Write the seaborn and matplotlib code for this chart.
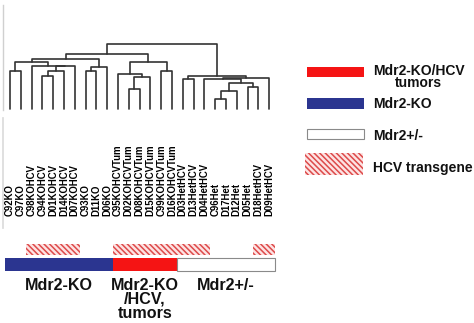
import numpy as np
import pandas as pd
import matplotlib
matplotlib.use("Agg")
import matplotlib.pyplot as plt
import seaborn as sns
from matplotlib.patches import Rectangle

# ---------------- data ----------------
samples = ["C92KO", "C97KO", "C98KOHCV", "C94KOHCV", "D01KOHCV", "D14KOHCV", "D07KOHCV",
           "C93KO", "D11KO", "D06KO",
           "C95KOHCVTum", "D02KOHCVTum", "D08KOHCVTum", "D15KOHCVTum", "C99KOHCVTum", "D16KOHCVTum",
           "D03HetHCV", "D13HetHCV", "D04HetHCV", "C96Het", "D17Het", "D12Het", "D05Het",
           "D18HetHCV", "D09HetHCV"]
genotype = ["KO"] * 10 + ["KO_HCV_tumor"] * 6 + ["Het"] * 9
hcv = [0, 0, 1, 1, 1, 1, 1, 0, 0, 0,
       1, 1, 1, 1, 1, 1,
       1, 1, 1, 0, 0, 0, 0, 1, 1]

# hierarchical merges: node ids < 25 are samples, 25+k is the k-th merge
merge_a = [11, 19, 26, 22, 27, 18, 30, 16, 32, 25, 10, 14, 35, 3, 38, 39, 2, 0, 42, 7, 44, 43, 46, 47]
merge_b = [12, 20, 21, 23, 28, 29, 24, 17, 31, 13, 34, 15, 36, 4, 5, 6, 40, 1, 41, 8, 9, 45, 37, 33]
merge_h = [19.7, 10.0, 18.3, 22.0, 26.0, 29.7, 30.7, 30.0, 33.0, 32.3, 35.0, 38.3, 46.7,
           33.0, 38.3, 42.5, 43.3, 38.3, 47.3, 38.3, 42.3, 50.0, 55.0, 65.0]

group_keys = ["KO", "KO_HCV_tumor", "Het"]
group_text = ["Mdr2-KO", "Mdr2-KO\n/HCV,\ntumors", "Mdr2+/-"]
legend_keys = ["KO_HCV_tumor", "KO", "Het"]
legend_text = ["Mdr2-KO/HCV\ntumors", "Mdr2-KO", "Mdr2+/-"]
hcv_text = "HCV transgene"

# ---------------- style ----------------
sns.set_theme(style="white")
plt.rcParams["font.family"] = ["Liberation Sans", "DejaVu Sans"]

group_color = {"KO": "#2b3590", "KO_HCV_tumor": "#f51414", "Het": "#ffffff"}
group_edge = {"KO": "#2b3590", "KO_HCV_tumor": "#f51414", "Het": "#8a8a8a"}
hatch_face = "#fde3e3"
hatch_edge = "#dd4a4a"
plt.rcParams["hatch.linewidth"] = 1.1

W, H = 474, 323
fig = plt.figure(figsize=(W / 100, H / 100), dpi=100)
fig.patch.set_facecolor("white")


def px_axes(x0, y0, x1, y1):
    return fig.add_axes([x0 / W, 1 - y1 / H, (x1 - x0) / W, (y1 - y0) / H])


LEAF0, STEP = 10.0, 10.8
def xlim_for(x0, x1):
    return ((x0 - LEAF0) / STEP, (x1 - LEAF0) / STEP)

# ---------------- dendrogram ----------------
n = len(samples)
pos = {i: float(i) for i in range(n)}
hgt = {i: 0.0 for i in range(n)}
rows = []
for k, (a, b, h) in enumerate(zip(merge_a, merge_b, merge_h)):
    xa, xb = pos[a], pos[b]
    rows += [(k, xa, hgt[a]), (k, xa, h), (k, xb, h), (k, xb, hgt[b])]
    pos[n + k] = (xa + xb) / 2
    hgt[n + k] = h
dend = pd.DataFrame(rows, columns=["link", "x", "y"])

ax_d = px_axes(3, 5, 290, 110)
sns.lineplot(data=dend, x="x", y="y", units="link", estimator=None, sort=False,
             color="#333333", lw=1.2, ax=ax_d, legend=False)
ax_d.set_xlim(*xlim_for(3, 290))
ax_d.set_ylim(-1, 104)
ax_d.set_xticks([]); ax_d.set_yticks([])
ax_d.set_xlabel(""); ax_d.set_ylabel("")
for s in ["top", "right", "bottom"]:
    ax_d.spines[s].set_visible(False)
ax_d.spines["left"].set_color("#d0d0d0")
ax_d.spines["left"].set_linewidth(1.0)

# ---------------- sample labels ----------------
ax_l = px_axes(3, 118, 290, 228)
ax_l.set_xlim(*xlim_for(3, 290))
ax_l.set_ylim(228, 118)
ax_l.set_xticks([]); ax_l.set_yticks([])
for s in ["top", "right", "bottom"]:
    ax_l.spines[s].set_visible(False)
ax_l.spines["left"].set_color("#dcdcdc")
for i, lab in enumerate(samples):
    ax_l.text(i, 216.5, lab, rotation=90, ha="center", va="bottom",
              fontsize=6.9, fontweight="bold", color="#000000")

# ---------------- annotation bars ----------------
def runs(vals):
    out, start = [], 0
    for i in range(1, len(vals) + 1):
        if i == len(vals) or vals[i] != vals[start]:
            out.append((start, i - 1, vals[start]))
            start = i
    return out

ax_b = px_axes(3, 235, 290, 323)
ax_b.set_xlim(*xlim_for(3, 290))
ax_b.set_ylim(323, 235)
ax_b.axis("off")
for s, e, v in runs(hcv):
    if v:
        ax_b.bar((s + e) / 2, 11, width=e - s + 1, bottom=244, color=hatch_face,
                 edgecolor=hatch_edge, hatch="\\\\\\\\\\\\", linewidth=0)
for s, e, g in runs(genotype):
    ax_b.bar((s + e) / 2, 13, width=e - s + 1, bottom=258, color=group_color[g],
             edgecolor=group_edge[g], linewidth=0.8 if g == "Het" else 0)
for s, e, g in runs(genotype):
    ax_b.text((s + e) / 2, 277.5, group_text[group_keys.index(g)], ha="center", va="top",
              fontsize=11.6, fontweight="bold", linespacing=0.95, color="#111111")

# ---------------- legend ----------------
ax_o = px_axes(0, 0, W, H)
ax_o.set_xlim(0, W); ax_o.set_ylim(H, 0)
ax_o.axis("off")
leg_y = [(67, 9.5, 77), (98, 11, 104.5), (129, 10, 135.5)]
for key, txt, (y0, hh, ty) in zip(legend_keys, legend_text, leg_y):
    ax_o.add_patch(Rectangle((307, y0), 57, hh, facecolor=group_color[key],
                             edgecolor=group_edge[key], linewidth=0.8 if key == "Het" else 0))
    ax_o.text(373, ty, txt, ha="left", va="center", fontsize=10, fontweight="bold",
              multialignment="center", linespacing=0.9, color="#111111")
ax_o.add_patch(Rectangle((305, 153), 58, 22, facecolor=hatch_face, edgecolor=hatch_edge,
                         hatch="\\\\\\\\\\\\", linewidth=0))
ax_o.text(373, 168, hcv_text, ha="left", va="center", fontsize=10, fontweight="bold",
          color="#111111", clip_on=False)

fig.savefig("out.png", dpi=100, facecolor="white")
